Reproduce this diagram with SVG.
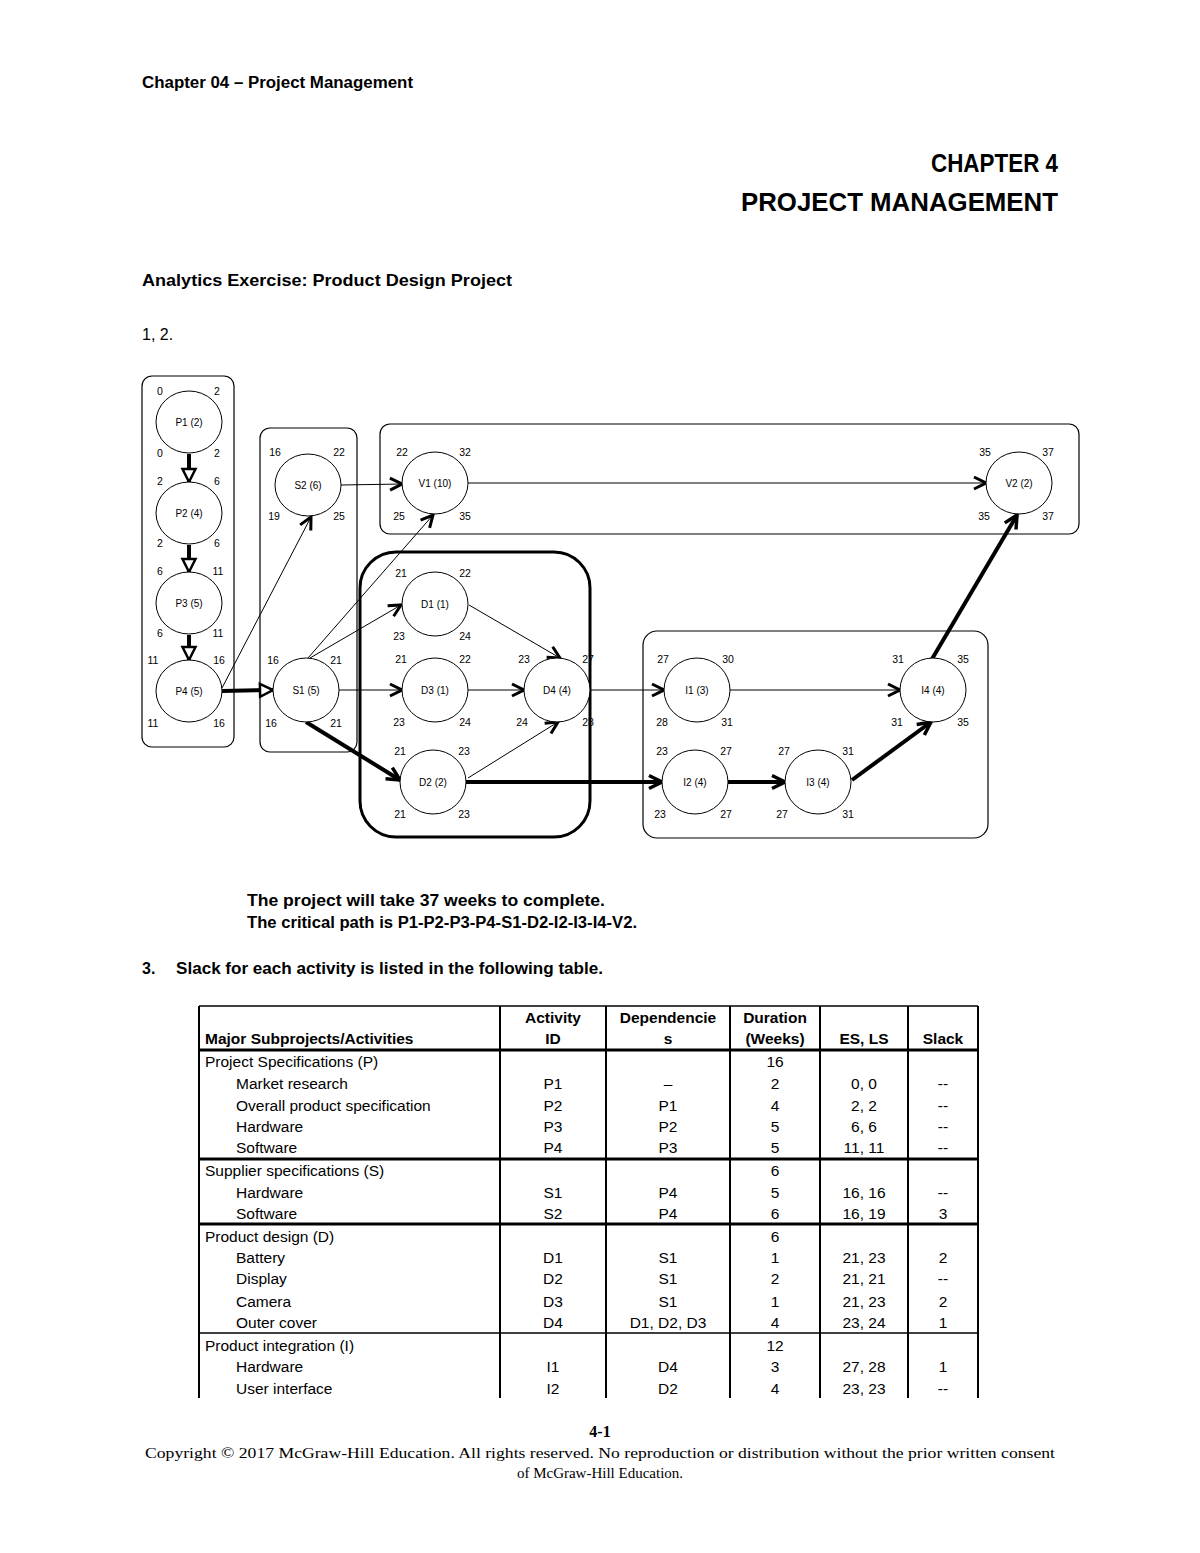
<svg xmlns="http://www.w3.org/2000/svg" width="1200" height="1553" viewBox="0 0 1200 1553">
<style>
.t{font-family:"Liberation Sans",Arial,sans-serif;fill:#000}
.b{font-weight:bold}
.sr{font-family:"Liberation Serif","Times New Roman",serif;fill:#000}
.nd ellipse{fill:#fff;stroke:#000;stroke-width:1}
.nl{font-family:"Liberation Sans",Arial,sans-serif;font-size:10px;text-anchor:middle;fill:#000}
.nn{font-family:"Liberation Sans",Arial,sans-serif;font-size:10.5px;text-anchor:middle;fill:#000}
.box{fill:none;stroke:#000;stroke-width:1.2}
.thin{fill:none;stroke:#000;stroke-width:1;marker-end:url(#chev)}
.thick{fill:none;stroke:#000;stroke-width:4;marker-end:url(#chevb)}
.hol{fill:none;stroke:#000;stroke-width:4;marker-end:url(#tri)}
.tb{font-family:"Liberation Sans",Arial,sans-serif;font-size:15.5px;fill:#000}
.c{text-anchor:middle}
.vl{stroke:#000;stroke-width:2}
.hl{stroke:#000;stroke-width:1.5}
.hd{stroke:#000;stroke-width:3}
</style>
<defs>
<marker id="chev" markerUnits="userSpaceOnUse" markerWidth="16" markerHeight="16" viewBox="0 0 16 16" refX="14" refY="8" orient="auto"><path d="M2,2 L14,8 L2,14" fill="none" stroke="#000" stroke-width="3"/></marker>
<marker id="chevb" markerUnits="userSpaceOnUse" markerWidth="18" markerHeight="18" viewBox="0 0 18 18" refX="15" refY="9" orient="auto"><path d="M2,2.5 L15,9 L2,15.5" fill="none" stroke="#000" stroke-width="3.5"/></marker>
<marker id="tri" markerUnits="userSpaceOnUse" markerWidth="18" markerHeight="18" viewBox="0 0 18 18" refX="15" refY="9" orient="auto"><path d="M2,2.5 L15,9 L2,15.5 Z" fill="#fff" stroke="#000" stroke-width="2.5"/></marker>
</defs>
<rect width="1200" height="1553" fill="#fff"/>

<!-- header text -->
<text class="t b" x="142" y="88" font-size="16" textLength="271" lengthAdjust="spacingAndGlyphs">Chapter 04 – Project Management</text>
<text class="t b" x="1058" y="172" font-size="25" text-anchor="end" textLength="127" lengthAdjust="spacingAndGlyphs">CHAPTER 4</text>
<text class="t b" x="1058" y="211" font-size="25" text-anchor="end" textLength="317" lengthAdjust="spacingAndGlyphs">PROJECT MANAGEMENT</text>
<text class="t b" x="142" y="286" font-size="17" textLength="370" lengthAdjust="spacingAndGlyphs">Analytics Exercise: Product Design Project</text>
<text class="t" x="142" y="340" font-size="16">1, 2.</text>

<!-- group boxes -->
<g id="boxes">
<rect class="box" x="142" y="376" width="92" height="371" rx="10"/>
<rect class="box" x="260" y="428" width="97" height="324" rx="10"/>
<rect class="box" x="380" y="424" width="699" height="110" rx="10"/>
<rect x="360" y="552" width="230" height="285" rx="36" fill="none" stroke="#000" stroke-width="3"/>
<rect class="box" x="643" y="631" width="345" height="207" rx="14"/>
</g>

<!-- connectors -->
<g id="connectors">
<line class="hol" x1="189" y1="454" x2="189" y2="482"/>
<line class="hol" x1="189" y1="545" x2="189" y2="572"/>
<line class="hol" x1="189" y1="635" x2="189" y2="660"/>
<line class="hol" x1="222" y1="691" x2="273" y2="690"/>
<line class="thin" x1="222" y1="688" x2="311" y2="517"/>
<line class="thin" x1="341" y1="485" x2="402" y2="484"/>
<line class="thin" x1="308" y1="658" x2="433" y2="515"/>
<line class="thin" x1="310" y1="658" x2="401" y2="605"/>
<line class="thin" x1="339" y1="690" x2="402" y2="690"/>
<line class="thick" x1="306" y1="722" x2="400" y2="780"/>
<line class="thin" x1="469" y1="605" x2="560" y2="658"/>
<line class="thin" x1="468" y1="690" x2="524" y2="690"/>
<line class="thin" x1="468" y1="778" x2="558" y2="722"/>
<line class="thin" x1="590" y1="690" x2="664" y2="690"/>
<line class="thick" x1="466" y1="782" x2="662" y2="782"/>
<line class="thin" x1="730" y1="690" x2="900" y2="690"/>
<line class="thick" x1="728" y1="782" x2="785" y2="782"/>
<line class="thick" x1="852" y1="780" x2="931" y2="722"/>
<line class="thick" x1="932" y1="659" x2="1017" y2="515"/>
<line class="thin" x1="468" y1="483" x2="986" y2="483"/>
</g>

<!-- nodes -->
<g id="P1" class="nd"><ellipse cx="189" cy="422" rx="33" ry="31"/><text class="nl" x="189" y="426">P1 (2)</text><text class="nn" x="160" y="395">0</text><text class="nn" x="217" y="395">2</text><text class="nn" x="160" y="457">0</text><text class="nn" x="217" y="457">2</text></g>
<g id="P2" class="nd"><ellipse cx="189" cy="513" rx="33" ry="31"/><text class="nl" x="189" y="517">P2 (4)</text><text class="nn" x="160" y="485">2</text><text class="nn" x="217" y="485">6</text><text class="nn" x="160" y="547">2</text><text class="nn" x="217" y="547">6</text></g>
<g id="P3" class="nd"><ellipse cx="189" cy="603" rx="33" ry="31"/><text class="nl" x="189" y="607">P3 (5)</text><text class="nn" x="160" y="575">6</text><text class="nn" x="218" y="575">11</text><text class="nn" x="160" y="637">6</text><text class="nn" x="218" y="637">11</text></g>
<g id="P4" class="nd"><ellipse cx="189" cy="691" rx="33" ry="31"/><text class="nl" x="189" y="695">P4 (5)</text><text class="nn" x="153" y="664">11</text><text class="nn" x="219" y="664">16</text><text class="nn" x="153" y="727">11</text><text class="nn" x="219" y="727">16</text></g>
<g id="S2" class="nd"><ellipse cx="308" cy="485" rx="33" ry="31"/><text class="nl" x="308" y="489">S2 (6)</text><text class="nn" x="275" y="456">16</text><text class="nn" x="339" y="456">22</text><text class="nn" x="274" y="520">19</text><text class="nn" x="339" y="520">25</text></g>
<g id="S1" class="nd"><ellipse cx="306" cy="690" rx="33" ry="32"/><text class="nl" x="306" y="694">S1 (5)</text><text class="nn" x="273" y="664">16</text><text class="nn" x="336" y="664">21</text><text class="nn" x="271" y="727">16</text><text class="nn" x="336" y="727">21</text></g>
<g id="V1" class="nd"><ellipse cx="435" cy="483" rx="33" ry="31"/><text class="nl" x="435" y="487">V1 (10)</text><text class="nn" x="402" y="456">22</text><text class="nn" x="465" y="456">32</text><text class="nn" x="399" y="520">25</text><text class="nn" x="465" y="520">35</text></g>
<g id="V2" class="nd"><ellipse cx="1019" cy="483" rx="33" ry="31"/><text class="nl" x="1019" y="487">V2 (2)</text><text class="nn" x="985" y="456">35</text><text class="nn" x="1048" y="456">37</text><text class="nn" x="984" y="520">35</text><text class="nn" x="1048" y="520">37</text></g>
<g id="D1" class="nd"><ellipse cx="435" cy="604" rx="33" ry="32"/><text class="nl" x="435" y="608">D1 (1)</text><text class="nn" x="401" y="577">21</text><text class="nn" x="465" y="577">22</text><text class="nn" x="399" y="640">23</text><text class="nn" x="465" y="640">24</text></g>
<g id="D3" class="nd"><ellipse cx="435" cy="690" rx="33" ry="32"/><text class="nl" x="435" y="694">D3 (1)</text><text class="nn" x="401" y="663">21</text><text class="nn" x="465" y="663">22</text><text class="nn" x="399" y="726">23</text><text class="nn" x="465" y="726">24</text></g>
<g id="D2" class="nd"><ellipse cx="433" cy="782" rx="33" ry="32"/><text class="nl" x="433" y="786">D2 (2)</text><text class="nn" x="400" y="755">21</text><text class="nn" x="464" y="755">23</text><text class="nn" x="400" y="818">21</text><text class="nn" x="464" y="818">23</text></g>
<g id="D4" class="nd"><ellipse cx="557" cy="690" rx="33" ry="32"/><text class="nl" x="557" y="694">D4 (4)</text><text class="nn" x="524" y="663">23</text><text class="nn" x="588" y="663">27</text><text class="nn" x="522" y="726">24</text><text class="nn" x="588" y="726">28</text></g>
<g id="I1" class="nd"><ellipse cx="697" cy="690" rx="33" ry="32"/><text class="nl" x="697" y="694">I1 (3)</text><text class="nn" x="663" y="663">27</text><text class="nn" x="728" y="663">30</text><text class="nn" x="662" y="726">28</text><text class="nn" x="727" y="726">31</text></g>
<g id="I2" class="nd"><ellipse cx="695" cy="782" rx="33" ry="32"/><text class="nl" x="695" y="786">I2 (4)</text><text class="nn" x="662" y="755">23</text><text class="nn" x="726" y="755">27</text><text class="nn" x="660" y="818">23</text><text class="nn" x="726" y="818">27</text></g>
<g id="I3" class="nd"><ellipse cx="818" cy="782" rx="33" ry="32"/><text class="nl" x="818" y="786">I3 (4)</text><text class="nn" x="784" y="755">27</text><text class="nn" x="848" y="755">31</text><text class="nn" x="782" y="818">27</text><text class="nn" x="848" y="818">31</text></g>
<g id="I4" class="nd"><ellipse cx="933" cy="690" rx="33" ry="32"/><text class="nl" x="933" y="694">I4 (4)</text><text class="nn" x="898" y="663">31</text><text class="nn" x="963" y="663">35</text><text class="nn" x="897" y="726">31</text><text class="nn" x="963" y="726">35</text></g>

<!-- result text -->
<text class="t b" x="247" y="906" font-size="16" textLength="358" lengthAdjust="spacingAndGlyphs">The project will take 37 weeks to complete.</text>
<text class="t b" x="247" y="928" font-size="16" textLength="390" lengthAdjust="spacingAndGlyphs">The critical path is P1-P2-P3-P4-S1-D2-I2-I3-I4-V2.</text>
<text class="t b" x="142" y="974" font-size="16">3.</text>
<text class="t b" x="176" y="974" font-size="16" textLength="427" lengthAdjust="spacingAndGlyphs">Slack for each activity is listed in the following table.</text>

<!-- table -->
<g id="table">
<line class="hl" x1="199" y1="1006" x2="978" y2="1006"/>
<line class="hd" x1="199" y1="1050" x2="978" y2="1050"/>
<line class="hd" x1="199" y1="1159" x2="978" y2="1159"/>
<line class="hd" x1="199" y1="1224" x2="978" y2="1224"/>
<line class="hl" x1="199" y1="1333" x2="978" y2="1333"/>
<line class="vl" x1="199" y1="1006" x2="199" y2="1398"/>
<line class="vl" x1="500" y1="1006" x2="500" y2="1398"/>
<line class="vl" x1="606" y1="1006" x2="606" y2="1398"/>
<line class="vl" x1="730" y1="1006" x2="730" y2="1398"/>
<line class="vl" x1="820" y1="1006" x2="820" y2="1398"/>
<line class="vl" x1="908" y1="1006" x2="908" y2="1398"/>
<line class="vl" x1="978" y1="1006" x2="978" y2="1398"/>

<g class="tb b">
<text x="205" y="1044">Major Subprojects/Activities</text>
<text class="c" x="553" y="1023">Activity</text><text class="c" x="553" y="1044">ID</text>
<text class="c" x="668" y="1023">Dependencie</text><text class="c" x="668" y="1044">s</text>
<text class="c" x="775" y="1023">Duration</text><text class="c" x="775" y="1044">(Weeks)</text>
<text class="c" x="864" y="1044">ES, LS</text>
<text class="c" x="943" y="1044">Slack</text>
</g>

<g class="tb">
<text x="205" y="1067">Project Specifications (P)</text><text class="c" x="775" y="1067">16</text>
<text x="236" y="1089">Market research</text><text class="c" x="553" y="1089">P1</text><text class="c" x="668" y="1089">–</text><text class="c" x="775" y="1089">2</text><text class="c" x="864" y="1089">0, 0</text><text class="c" x="943" y="1089">--</text>
<text x="236" y="1111">Overall product specification</text><text class="c" x="553" y="1111">P2</text><text class="c" x="668" y="1111">P1</text><text class="c" x="775" y="1111">4</text><text class="c" x="864" y="1111">2, 2</text><text class="c" x="943" y="1111">--</text>
<text x="236" y="1132">Hardware</text><text class="c" x="553" y="1132">P3</text><text class="c" x="668" y="1132">P2</text><text class="c" x="775" y="1132">5</text><text class="c" x="864" y="1132">6, 6</text><text class="c" x="943" y="1132">--</text>
<text x="236" y="1153">Software</text><text class="c" x="553" y="1153">P4</text><text class="c" x="668" y="1153">P3</text><text class="c" x="775" y="1153">5</text><text class="c" x="864" y="1153">11, 11</text><text class="c" x="943" y="1153">--</text>
<text x="205" y="1176">Supplier specifications (S)</text><text class="c" x="775" y="1176">6</text>
<text x="236" y="1198">Hardware</text><text class="c" x="553" y="1198">S1</text><text class="c" x="668" y="1198">P4</text><text class="c" x="775" y="1198">5</text><text class="c" x="864" y="1198">16, 16</text><text class="c" x="943" y="1198">--</text>
<text x="236" y="1219">Software</text><text class="c" x="553" y="1219">S2</text><text class="c" x="668" y="1219">P4</text><text class="c" x="775" y="1219">6</text><text class="c" x="864" y="1219">16, 19</text><text class="c" x="943" y="1219">3</text>
<text x="205" y="1242">Product design (D)</text><text class="c" x="775" y="1242">6</text>
<text x="236" y="1263">Battery</text><text class="c" x="553" y="1263">D1</text><text class="c" x="668" y="1263">S1</text><text class="c" x="775" y="1263">1</text><text class="c" x="864" y="1263">21, 23</text><text class="c" x="943" y="1263">2</text>
<text x="236" y="1284">Display</text><text class="c" x="553" y="1284">D2</text><text class="c" x="668" y="1284">S1</text><text class="c" x="775" y="1284">2</text><text class="c" x="864" y="1284">21, 21</text><text class="c" x="943" y="1284">--</text>
<text x="236" y="1307">Camera</text><text class="c" x="553" y="1307">D3</text><text class="c" x="668" y="1307">S1</text><text class="c" x="775" y="1307">1</text><text class="c" x="864" y="1307">21, 23</text><text class="c" x="943" y="1307">2</text>
<text x="236" y="1328">Outer cover</text><text class="c" x="553" y="1328">D4</text><text class="c" x="668" y="1328">D1, D2, D3</text><text class="c" x="775" y="1328">4</text><text class="c" x="864" y="1328">23, 24</text><text class="c" x="943" y="1328">1</text>
<text x="205" y="1351">Product integration (I)</text><text class="c" x="775" y="1351">12</text>
<text x="236" y="1372">Hardware</text><text class="c" x="553" y="1372">I1</text><text class="c" x="668" y="1372">D4</text><text class="c" x="775" y="1372">3</text><text class="c" x="864" y="1372">27, 28</text><text class="c" x="943" y="1372">1</text>
<text x="236" y="1394">User interface</text><text class="c" x="553" y="1394">I2</text><text class="c" x="668" y="1394">D2</text><text class="c" x="775" y="1394">4</text><text class="c" x="864" y="1394">23, 23</text><text class="c" x="943" y="1394">--</text>
</g>
</g>

<!-- footer -->
<text class="sr b" x="600" y="1437" font-size="16" text-anchor="middle">4-1</text>
<text class="sr" x="145" y="1458" font-size="15" textLength="910" lengthAdjust="spacingAndGlyphs">Copyright © 2017 McGraw-Hill Education. All rights reserved. No reproduction or distribution without the prior written consent</text>
<text class="sr" x="600" y="1478" font-size="15" text-anchor="middle">of McGraw-Hill Education.</text>
</svg>
